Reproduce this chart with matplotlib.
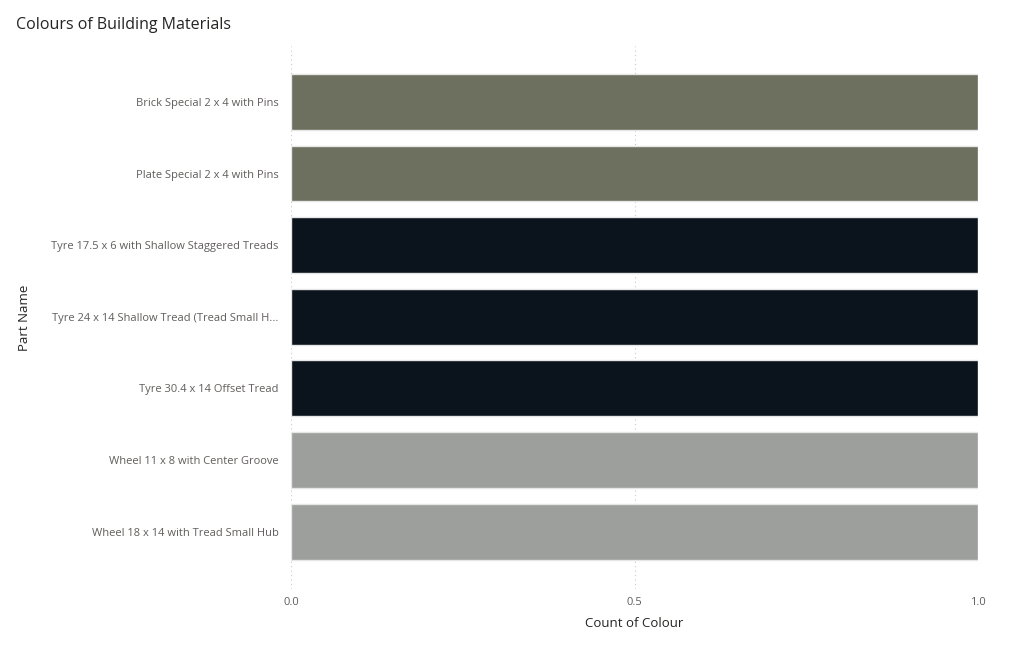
import matplotlib.pyplot as plt

parts = [
    "Brick Special 2 x 4 with Pins",
    "Plate Special 2 x 4 with Pins",
    "Tyre 17.5 x 6 with Shallow Staggered Treads",
    "Tyre 24 x 14 Shallow Tread (Tread Small H...",
    "Tyre 30.4 x 14 Offset Tread",
    "Wheel 11 x 8 with Center Groove",
    "Wheel 18 x 14 with Tread Small Hub",
]
counts = [1, 1, 1, 1, 1, 1, 1]
bar_colours = ["#6d6f5f", "#6d6f5f", "#0b131c", "#0b131c", "#0b131c", "#9c9f9b", "#9c9f9b"]
xticks = [0.0, 0.5, 1.0]

plt.rcParams['font.family'] = ['Open Sans', 'DejaVu Sans']

fig = plt.figure(figsize=(10.26, 6.62), dpi=100)
ax = fig.add_axes([291 / 1026, 1 - 589 / 662, 687 / 1026, 543 / 662])

ypos = list(range(len(parts)))
ax.barh(ypos, counts, height=0.78, color=bar_colours, edgecolor="#e6e6e6", linewidth=1, zorder=3)
ax.set_yticks(ypos)
ax.set_yticklabels(parts, fontsize=8, color="#605e5c")
ax.set_ylim(6.8, -0.78)
ax.set_xlim(0, 1)
ax.set_xticks(xticks)
ax.set_xticklabels([f"{t:.1f}" for t in xticks], fontsize=8, color="#605e5c")
ax.tick_params(axis="y", length=0, pad=9)
ax.tick_params(axis="x", length=0, pad=6)
ax.grid(axis="x", linestyle=(0, (1, 3)), color="#c8c8c8", linewidth=0.8, zorder=0)
for s in ax.spines.values():
    s.set_visible(False)

ax.set_xlabel("Count of Colour", fontsize=9.5, color="#252423", labelpad=6)
fig.text(24 / 1026, 1 - 318 / 662, "Part Name", rotation=90, fontsize=9.5,
         color="#252423", ha="center", va="center")
fig.text(16 / 1026, 1 - 25 / 662, "Colours of Building Materials", fontsize=11.5,
         color="#252423", ha="left", va="center")

fig.savefig("out.png", dpi=100)
